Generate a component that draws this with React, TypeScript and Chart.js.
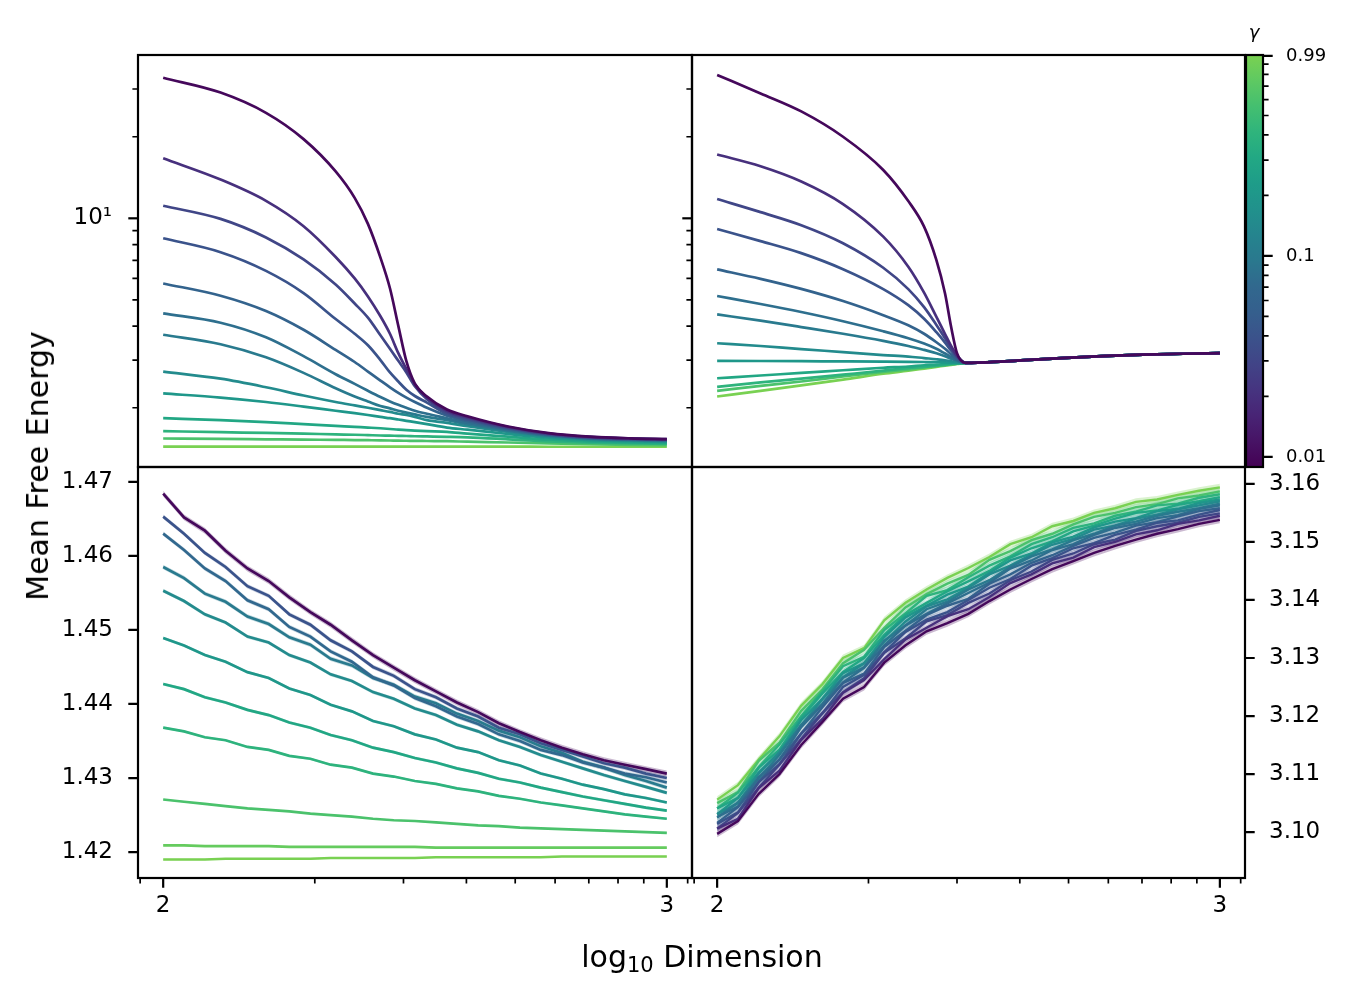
import React, { useEffect, useRef } from 'react';
import { Chart, registerables } from 'chart.js';

Chart.register(...registerables);

const FONT = "'DejaVu Sans', 'Liberation Sans', sans-serif";
Chart.defaults.font.family = FONT;

// ---------------- colour scale (colorbar) ----------------
const CB_MIN = 0.0089;
const CB_MAX = 1.0;
const cbTickValues = [0.01, 0.1, 0.99];
const cbTickLabels = ['0.01', '0.1', '0.99'];
const cbMinorTicks = [0.02, 0.03, 0.04, 0.05, 0.06, 0.07, 0.08, 0.09, 0.2, 0.3, 0.4, 0.5, 0.6, 0.7, 0.8, 0.9];
// viridis from 0.00 to 0.80 in steps of 0.05
const VIRIDIS_STOPS = ['#440154', '#471365', '#482475', '#463480', '#414487', '#3b528b', '#355f8d', '#31688e',
  '#2a788e', '#25848e', '#21918c', '#1e9c89', '#22a884', '#2fb47c', '#44bf70', '#5ec962', '#7ad151'];

// ---------------- x axis (log10 Dimension) ----------------
const X_MIN = 89.125;
const X_MAX = 1122.0;
const xTickValues = [100, 1000];
const xTickLabels = ['2', '3'];
const xMinorTicks = [90, 200, 300, 400, 500, 600, 700, 800, 900, 1100];

// ---------------- y axes ----------------
const TOP_Y_MIN = 1.209;
const TOP_Y_MAX = 40.05;
const topYTickValues = [10];
const topYTickLabels = ['10\u00b9'];
const topYMinorTicks = [2, 3, 4, 5, 6, 7, 8, 9, 20, 30];

const BL_Y_MIN = 1.4165;
const BL_Y_MAX = 1.472;
const blYTickValues = [1.42, 1.43, 1.44, 1.45, 1.46, 1.47];
const blYTickLabels = ['1.42', '1.43', '1.44', '1.45', '1.46', '1.47'];

const BR_Y_MIN = 3.0921;
const BR_Y_MAX = 3.1629;
const brYTickValues = [3.10, 3.11, 3.12, 3.13, 3.14, 3.15, 3.16];
const brYTickLabels = ['3.10', '3.11', '3.12', '3.13', '3.14', '3.15', '3.16'];

// ---------------- gamma values per panel ----------------
const gammaTop = [0.01, 0.02, 0.03, 0.04, 0.06, 0.08, 0.1, 0.15, 0.2, 0.3, 0.4, 0.6, 0.99];
const gammaBL = [0.01, 0.04, 0.07, 0.1, 0.15, 0.2, 0.3, 0.4, 0.6, 0.8, 0.99];
const gammaBR = [0.01, 0.02, 0.03, 0.04, 0.06, 0.08, 0.1, 0.15, 0.2, 0.3, 0.4, 0.6, 0.99];

// ---------------- top-left panel ----------------
const dimsTL = [100, 130, 160, 190, 220, 240, 255, 270, 282, 293, 304, 316, 334, 366, 402, 484, 583, 703, 846, 1000];
const tl1 = [33.0, 29.1, 24.5, 19.6, 14.9, 11.9, 9.54, 7.16, 5.52, 4.01, 2.97, 2.455, 2.20, 1.97, 1.86, 1.705, 1.612, 1.565, 1.543, 1.533];
const tl2 = [16.65, 13.9, 11.6, 9.35, 7.2, 6.0, 5.15, 4.35, 3.75, 3.18, 2.78, 2.44, 2.18, 1.95, 1.845, 1.698, 1.607, 1.562, 1.541, 1.531];
const tl3 = [11.13, 9.95, 8.5, 7.05, 5.7, 4.85, 4.3, 3.7, 3.3, 2.98, 2.7, 2.40, 2.15, 1.93, 1.83, 1.69, 1.602, 1.558, 1.538, 1.528];
const tl4 = [8.44, 7.5, 6.4, 5.3, 4.25, 3.75, 3.4, 3.0, 2.7, 2.5, 2.33, 2.21, 2.09, 1.90, 1.81, 1.68, 1.596, 1.553, 1.534, 1.525];
const tl5 = [5.75, 5.18, 4.55, 3.88, 3.27, 2.95, 2.72, 2.52, 2.38, 2.27, 2.18, 2.10, 2.00, 1.87, 1.79, 1.67, 1.59, 1.548, 1.53, 1.521];
const tl6 = [4.46, 4.12, 3.64, 3.10, 2.66, 2.45, 2.31, 2.19, 2.11, 2.05, 2.0, 1.95, 1.90, 1.83, 1.76, 1.658, 1.583, 1.543, 1.525, 1.517];
const tl7 = [3.72, 3.43, 3.07, 2.69, 2.36, 2.20, 2.11, 2.03, 1.99, 1.95, 1.92, 1.89, 1.85, 1.80, 1.74, 1.648, 1.577, 1.539, 1.521, 1.513];
const tl8 = [2.72, 2.56, 2.38, 2.22, 2.10, 2.04, 2.0, 1.96, 1.93, 1.90, 1.88, 1.85, 1.80, 1.76, 1.71, 1.63, 1.567, 1.532, 1.514, 1.506];
const tl9 = [2.26, 2.18, 2.10, 2.02, 1.95, 1.91, 1.88, 1.85, 1.83, 1.81, 1.79, 1.77, 1.74, 1.69, 1.66, 1.60, 1.55, 1.52, 1.505, 1.497];
const tl10 = [1.83, 1.80, 1.77, 1.74, 1.715, 1.70, 1.69, 1.68, 1.67, 1.66, 1.655, 1.648, 1.64, 1.63, 1.605, 1.565, 1.527, 1.503, 1.49, 1.483];
const tl11 = [1.64, 1.625, 1.615, 1.605, 1.595, 1.59, 1.585, 1.58, 1.578, 1.575, 1.573, 1.57, 1.567, 1.562, 1.555, 1.53, 1.504, 1.487, 1.477, 1.471];
const tl12 = [1.54, 1.535, 1.53, 1.526, 1.522, 1.52, 1.518, 1.516, 1.514, 1.512, 1.511, 1.51, 1.508, 1.505, 1.499, 1.489, 1.477, 1.467, 1.46, 1.455];
const tl13 = [1.437, 1.437, 1.437, 1.437, 1.437, 1.437, 1.437, 1.437, 1.437, 1.437, 1.437, 1.437, 1.437, 1.437, 1.437, 1.437, 1.436, 1.436, 1.436, 1.436];

// ---------------- top-right panel ----------------
const dimsTR = [100, 122, 147, 178, 214, 240, 258, 273, 284, 292, 300, 312, 330, 366, 402, 484, 583, 703, 846, 1000];
const tr1 = [33.8, 28.9, 24.8, 20.0, 15.08, 11.58, 9.32, 7.01, 5.28, 3.98, 3.18, 2.93, 2.935, 2.96, 2.99, 3.05, 3.10, 3.14, 3.165, 3.18];
const tr2 = [17.2, 15.56, 13.67, 11.29, 8.56, 6.63, 5.32, 4.33, 3.74, 3.38, 3.12, 2.93, 2.935, 2.96, 2.99, 3.05, 3.10, 3.14, 3.165, 3.18];
const tr3 = [11.78, 10.54, 9.43, 8.09, 6.57, 5.48, 4.70, 4.04, 3.61, 3.32, 3.10, 2.93, 2.935, 2.96, 2.99, 3.05, 3.10, 3.14, 3.165, 3.18];
const tr4 = [9.13, 8.24, 7.44, 6.49, 5.48, 4.78, 4.26, 3.80, 3.48, 3.25, 3.07, 2.93, 2.935, 2.96, 2.99, 3.05, 3.10, 3.14, 3.165, 3.18];
const tr5 = [6.48, 5.98, 5.49, 4.95, 4.39, 4.03, 3.75, 3.49, 3.30, 3.15, 3.02, 2.93, 2.935, 2.96, 2.99, 3.05, 3.10, 3.14, 3.165, 3.18];
const tr6 = [5.17, 4.83, 4.51, 4.17, 3.83, 3.61, 3.45, 3.30, 3.17, 3.08, 3.00, 2.93, 2.935, 2.96, 2.99, 3.05, 3.10, 3.14, 3.165, 3.18];
const tr7 = [4.42, 4.19, 3.97, 3.75, 3.53, 3.38, 3.27, 3.18, 3.10, 3.03, 2.98, 2.93, 2.935, 2.96, 2.99, 3.05, 3.10, 3.14, 3.165, 3.18];
const tr8 = [3.46, 3.38, 3.29, 3.21, 3.13, 3.09, 3.05, 3.02, 2.995, 2.97, 2.95, 2.93, 2.935, 2.96, 2.99, 3.05, 3.10, 3.14, 3.165, 3.18];
const tr9 = [2.98, 2.975, 2.97, 2.965, 2.96, 2.955, 2.95, 2.945, 2.94, 2.935, 2.93, 2.93, 2.935, 2.96, 2.99, 3.05, 3.10, 3.14, 3.165, 3.18];
const tr10 = [2.57, 2.63, 2.69, 2.75, 2.81, 2.84, 2.87, 2.885, 2.90, 2.91, 2.92, 2.93, 2.935, 2.96, 2.99, 3.05, 3.10, 3.14, 3.165, 3.18];
const tr11 = [2.39, 2.48, 2.56, 2.65, 2.74, 2.80, 2.83, 2.86, 2.88, 2.90, 2.91, 2.93, 2.935, 2.96, 2.99, 3.05, 3.10, 3.14, 3.165, 3.18];
const tr12 = [2.31, 2.41, 2.50, 2.61, 2.71, 2.77, 2.82, 2.85, 2.87, 2.89, 2.91, 2.93, 2.935, 2.96, 2.99, 3.05, 3.10, 3.14, 3.165, 3.18];
const tr13 = [2.20, 2.31, 2.42, 2.54, 2.67, 2.74, 2.79, 2.83, 2.86, 2.88, 2.90, 2.93, 2.935, 2.96, 2.99, 3.05, 3.10, 3.14, 3.165, 3.18];

// ---------------- bottom panels ----------------
const dimsBottom = [100, 110, 121, 133, 147, 162, 178, 196, 215, 237, 261, 287, 316, 348, 383, 422, 464, 511, 562, 619, 681, 750, 825, 909, 1000];

const bl1 = [1.4684, 1.4652, 1.4634, 1.4607, 1.4583, 1.4566, 1.4544, 1.4524, 1.4507, 1.4486, 1.4466, 1.4449, 1.4432, 1.4417, 1.4402, 1.4389, 1.4374, 1.4362, 1.4351, 1.4341, 1.4332, 1.4324, 1.4318, 1.4312, 1.4306];
const bl2 = [1.4653, 1.4630, 1.4604, 1.4585, 1.4559, 1.4546, 1.4521, 1.4507, 1.4486, 1.4471, 1.4450, 1.4438, 1.4420, 1.4409, 1.4394, 1.4383, 1.4368, 1.4359, 1.4347, 1.4338, 1.4329, 1.4320, 1.4314, 1.4306, 1.4300];
const bl3 = [1.4630, 1.4608, 1.4583, 1.4566, 1.4540, 1.4528, 1.4504, 1.4491, 1.4471, 1.4457, 1.4436, 1.4425, 1.4408, 1.4397, 1.4383, 1.4373, 1.4359, 1.4350, 1.4338, 1.4331, 1.4321, 1.4314, 1.4306, 1.4301, 1.4294];
const bl4 = [1.4585, 1.4570, 1.4549, 1.4538, 1.4518, 1.4508, 1.4490, 1.4480, 1.4461, 1.4452, 1.4435, 1.4426, 1.4410, 1.4401, 1.4387, 1.4377, 1.4364, 1.4355, 1.4343, 1.4334, 1.4322, 1.4314, 1.4304, 1.4296, 1.4287];
const bl5 = [1.4553, 1.4539, 1.4521, 1.4510, 1.4491, 1.4483, 1.4466, 1.4456, 1.4440, 1.4431, 1.4416, 1.4407, 1.4394, 1.4385, 1.4372, 1.4363, 1.4351, 1.4342, 1.4331, 1.4322, 1.4313, 1.4304, 1.4296, 1.4288, 1.4280];
const bl6 = [1.4489, 1.4479, 1.4466, 1.4457, 1.4443, 1.4435, 1.4421, 1.4412, 1.4399, 1.4390, 1.4377, 1.4370, 1.4359, 1.4352, 1.4341, 1.4335, 1.4324, 1.4317, 1.4306, 1.4299, 1.4291, 1.4285, 1.4278, 1.4273, 1.4267];
const bl7 = [1.4427, 1.4420, 1.4409, 1.4402, 1.4392, 1.4385, 1.4375, 1.4368, 1.4358, 1.4351, 1.4341, 1.4335, 1.4327, 1.4321, 1.4313, 1.4307, 1.4299, 1.4294, 1.4287, 1.4281, 1.4275, 1.4270, 1.4265, 1.4260, 1.4256];
const bl8 = [1.4368, 1.4363, 1.4355, 1.4351, 1.4342, 1.4338, 1.4330, 1.4326, 1.4318, 1.4314, 1.4306, 1.4302, 1.4296, 1.4292, 1.4286, 1.4282, 1.4276, 1.4272, 1.4267, 1.4263, 1.4259, 1.4255, 1.4251, 1.4248, 1.4245];
const bl9 = [1.4271, 1.4268, 1.4265, 1.4262, 1.4259, 1.4257, 1.4255, 1.4252, 1.4250, 1.4248, 1.4245, 1.4243, 1.4242, 1.4240, 1.4238, 1.4236, 1.4235, 1.4233, 1.4232, 1.4231, 1.4230, 1.4229, 1.4228, 1.4227, 1.4226];
const bl10 = [1.4209, 1.4209, 1.4208, 1.4208, 1.4208, 1.4208, 1.4207, 1.4207, 1.4207, 1.4207, 1.4207, 1.4207, 1.4207, 1.4206, 1.4206, 1.4206, 1.4206, 1.4206, 1.4206, 1.4206, 1.4206, 1.4206, 1.4206, 1.4206, 1.4206];
const bl11 = [1.4190, 1.4190, 1.4190, 1.4191, 1.4191, 1.4191, 1.4191, 1.4191, 1.4192, 1.4192, 1.4192, 1.4192, 1.4192, 1.4193, 1.4193, 1.4193, 1.4193, 1.4193, 1.4193, 1.4194, 1.4194, 1.4194, 1.4194, 1.4194, 1.4194];
const blBand = [0.0004, 0.0003, 0.0003, 0.0003, 0.00025, 0.0002, 0.0002, 0.00015, 0.0001, 0.0001, 0.0001];

const br1 = [3.0997, 3.1019, 3.1066, 3.1100, 3.1150, 3.1190, 3.1230, 3.1250, 3.1292, 3.1322, 3.1346, 3.1360, 3.1376, 3.1398, 3.1418, 3.1436, 3.1453, 3.1467, 3.1481, 3.1493, 3.1504, 3.1514, 3.1522, 3.1531, 3.1538];
const br2 = [3.1006, 3.1023, 3.1076, 3.1106, 3.1159, 3.1195, 3.1240, 3.1262, 3.1298, 3.1332, 3.1352, 3.1372, 3.1384, 3.1405, 3.1429, 3.1444, 3.1463, 3.1473, 3.1491, 3.1500, 3.1513, 3.1520, 3.1531, 3.1537, 3.1545];
const br3 = [3.1006, 3.1033, 3.1077, 3.1116, 3.1161, 3.1205, 3.1241, 3.1265, 3.1309, 3.1334, 3.1363, 3.1374, 3.1395, 3.1411, 3.1434, 3.1449, 3.1469, 3.1480, 3.1496, 3.1504, 3.1519, 3.1527, 3.1533, 3.1543, 3.1549];
const br4 = [3.1014, 3.1034, 3.1086, 3.1117, 3.1170, 3.1205, 3.1250, 3.1271, 3.1310, 3.1345, 3.1366, 3.1379, 3.1400, 3.1421, 3.1436, 3.1459, 3.1472, 3.1489, 3.1498, 3.1512, 3.1521, 3.1533, 3.1537, 3.1547, 3.1555];
const br5 = [3.1016, 3.1043, 3.1087, 3.1125, 3.1170, 3.1215, 3.1257, 3.1273, 3.1319, 3.1347, 3.1374, 3.1390, 3.1402, 3.1428, 3.1444, 3.1464, 3.1477, 3.1493, 3.1507, 3.1516, 3.1528, 3.1534, 3.1544, 3.1553, 3.1558];
const br6 = [3.1026, 3.1044, 3.1095, 3.1125, 3.1181, 3.1220, 3.1258, 3.1283, 3.1322, 3.1356, 3.1376, 3.1394, 3.1412, 3.1430, 3.1454, 3.1468, 3.1486, 3.1496, 3.1512, 3.1524, 3.1531, 3.1541, 3.1546, 3.1557, 3.1563];
const br7 = [3.1025, 3.1051, 3.1093, 3.1133, 3.1185, 3.1221, 3.1266, 3.1284, 3.1330, 3.1356, 3.1384, 3.1397, 3.1418, 3.1434, 3.1457, 3.1475, 3.1487, 3.1503, 3.1514, 3.1528, 3.1535, 3.1545, 3.1552, 3.1558, 3.1566];
const br8 = [3.1031, 3.1050, 3.1101, 3.1138, 3.1184, 3.1229, 3.1267, 3.1291, 3.1328, 3.1363, 3.1389, 3.1401, 3.1421, 3.1444, 3.1459, 3.1478, 3.1495, 3.1505, 3.1521, 3.1528, 3.1540, 3.1547, 3.1556, 3.1563, 3.1570];
const br9 = [3.1031, 3.1059, 3.1103, 3.1137, 3.1193, 3.1230, 3.1274, 3.1291, 3.1336, 3.1370, 3.1390, 3.1409, 3.1423, 3.1447, 3.1468, 3.1480, 3.1499, 3.1509, 3.1525, 3.1535, 3.1541, 3.1553, 3.1557, 3.1567, 3.1573];
const br10 = [3.1041, 3.1059, 3.1111, 3.1142, 3.1197, 3.1239, 3.1276, 3.1300, 3.1340, 3.1374, 3.1395, 3.1415, 3.1432, 3.1450, 3.1473, 3.1489, 3.1501, 3.1518, 3.1528, 3.1540, 3.1550, 3.1554, 3.1564, 3.1570, 3.1577];
const br11 = [3.1041, 3.1068, 3.1112, 3.1151, 3.1200, 3.1243, 3.1286, 3.1302, 3.1348, 3.1377, 3.1407, 3.1417, 3.1439, 3.1459, 3.1475, 3.1496, 3.1508, 3.1524, 3.1532, 3.1545, 3.1552, 3.1563, 3.1566, 3.1576, 3.1582];
const br12 = [3.1050, 3.1069, 3.1123, 3.1154, 3.1209, 3.1246, 3.1291, 3.1314, 3.1352, 3.1387, 3.1410, 3.1428, 3.1443, 3.1469, 3.1484, 3.1503, 3.1514, 3.1530, 3.1543, 3.1550, 3.1560, 3.1565, 3.1575, 3.1580, 3.1587];
const br13 = [3.1056, 3.1081, 3.1125, 3.1165, 3.1218, 3.1255, 3.1300, 3.1317, 3.1365, 3.1395, 3.1418, 3.1438, 3.1455, 3.1474, 3.1496, 3.1508, 3.1527, 3.1536, 3.1550, 3.1558, 3.1569, 3.1573, 3.1581, 3.1588, 3.1594];
const brBand = [0.0006, 0.0005, 0.0005, 0.0005, 0.0005, 0.0005, 0.0005, 0.0005, 0.0005, 0.0005, 0.0006, 0.0006, 0.0006];

const tlSeries = [tl1, tl2, tl3, tl4, tl5, tl6, tl7, tl8, tl9, tl10, tl11, tl12, tl13];
const trSeries = [tr1, tr2, tr3, tr4, tr5, tr6, tr7, tr8, tr9, tr10, tr11, tr12, tr13];
const blSeries = [bl1, bl2, bl3, bl4, bl5, bl6, bl7, bl8, bl9, bl10, bl11];
const brSeries = [br1, br2, br3, br4, br5, br6, br7, br8, br9, br10, br11, br12, br13];

// ---------------- helpers ----------------
const W = 1352;
const H = 1002;
const MAJOR_LEN = 9.7;
const MINOR_LEN = 5.6;
const MAJOR_W = 2.2;
const MINOR_W = 1.7;
const SPINE_W = 2.2;

function hexToRgb(h: string) {
  return [parseInt(h.slice(1, 3), 16), parseInt(h.slice(3, 5), 16), parseInt(h.slice(5, 7), 16)];
}

function colorAt(p: number, alpha = 1) {
  const f = Math.min(Math.max(p, 0), 1) * (VIRIDIS_STOPS.length - 1);
  const i = Math.min(Math.floor(f), VIRIDIS_STOPS.length - 2);
  const t = f - i;
  const a = hexToRgb(VIRIDIS_STOPS[i]);
  const b = hexToRgb(VIRIDIS_STOPS[i + 1]);
  const c = a.map((v, k) => Math.round(v + (b[k] - v) * t));
  return `rgba(${c[0]},${c[1]},${c[2]},${alpha})`;
}

function gammaColor(g: number, alpha = 1) {
  const p = (Math.log10(g) - Math.log10(CB_MIN)) / (Math.log10(CB_MAX) - Math.log10(CB_MIN));
  return colorAt(p, alpha);
}

const pts = (xs: number[], ys: number[]) => xs.map((x, i) => ({ x, y: ys[i] }));

function lineDs(xs: number[], ys: number[], g: number, width: number, smooth: boolean) {
  return {
    data: pts(xs, ys),
    borderColor: gammaColor(g),
    backgroundColor: gammaColor(g),
    borderWidth: width,
    pointRadius: 0,
    fill: false,
    tension: 0,
    cubicInterpolationMode: smooth ? 'monotone' : 'default',
    order: 0,
  };
}

function panelDatasets(xs: number[], series: number[][], gammas: number[], width: number, smooth: boolean, bands?: number[]) {
  const out: any[] = series.map((ys, i) => lineDs(xs, ys, gammas[i], width, smooth));
  if (bands) {
    series.forEach((ys, i) => {
      const upIdx = out.length;
      out.push({
        data: pts(xs, ys.map((v) => v + bands[i])),
        borderColor: 'rgba(0,0,0,0)', borderWidth: 0, pointRadius: 0, fill: false, order: 1,
      });
      out.push({
        data: pts(xs, ys.map((v) => v - bands[i])),
        borderColor: 'rgba(0,0,0,0)', borderWidth: 0, pointRadius: 0,
        fill: upIdx, backgroundColor: gammaColor(gammas[i], 0.28), order: 1,
      });
    });
  }
  return out;
}

function axis(o: any) {
  const horizontal = o.position === 'top' || o.position === 'bottom';
  return {
    type: o.type,
    position: o.position,
    min: o.min,
    max: o.max,
    display: o.display,
    grid: { display: false, drawTicks: false },
    border: { display: false },
    afterBuildTicks: (s: any) => {
      s.ticks = (o.ticks || []).map((v: number) => ({ value: v }));
    },
    afterFit: (s: any) => {
      if (o.size != null) {
        if (horizontal) s.height = o.size;
        else s.width = o.size;
      }
    },
    ticks: {
      display: true,
      autoSkip: false,
      maxRotation: 0,
      minRotation: 0,
      padding: o.pad ?? 0,
      color: '#000',
      font: { family: FONT, size: o.fontSize ?? 23 },
      callback: (_v: any, i: number) => (o.labels ? o.labels[i] : ''),
    },
  };
}

function framePlugin(cfg: any) {
  return {
    id: 'mplFrame',
    afterDatasetsDraw(chart: any) {
      const { ctx, chartArea: a, scales } = chart;
      ctx.save();
      ctx.strokeStyle = '#000';
      ctx.lineCap = 'butt';
      for (const side of ['left', 'right', 'bottom', 'top']) {
        const s = cfg[side];
        if (!s) continue;
        const vertical = side === 'left' || side === 'right';
        const scale = vertical ? scales.y : scales.x;
        const groups: any[] = [[s.major || [], MAJOR_LEN, MAJOR_W], [s.minor || [], MINOR_LEN, MINOR_W]];
        for (const [vals, len, w] of groups) {
          ctx.lineWidth = w;
          ctx.beginPath();
          for (const v of vals) {
            const p = scale.getPixelForValue(v);
            if (vertical) {
              if (p < a.top - 0.5 || p > a.bottom + 0.5) continue;
              const x0 = side === 'left' ? a.left : a.right;
              const x1 = side === 'left' ? x0 - len : x0 + len;
              ctx.moveTo(x0, p);
              ctx.lineTo(x1, p);
            } else {
              if (p < a.left - 0.5 || p > a.right + 0.5) continue;
              const y0 = side === 'bottom' ? a.bottom : a.top;
              const y1 = side === 'bottom' ? y0 + len : y0 - len;
              ctx.moveTo(p, y0);
              ctx.lineTo(p, y1);
            }
          }
          ctx.stroke();
        }
      }
      ctx.lineWidth = SPINE_W;
      ctx.strokeRect(a.left, a.top, a.right - a.left, a.bottom - a.top);
      ctx.restore();
    },
  };
}

function lineConfig(padding: any, scales: any, datasets: any[], frame: any) {
  return {
    type: 'line',
    data: { datasets },
    options: {
      responsive: false,
      animation: false,
      devicePixelRatio: 1,
      events: [],
      layout: { padding },
      plugins: { legend: { display: false }, tooltip: { enabled: false } },
      elements: { point: { radius: 0 } },
      scales,
    },
    plugins: [framePlugin(frame)],
  };
}

// panel rectangles (pixels)
const XL = 138, XM = 692, XR = 1245, YT = 55, YM = 467, YB = 878;
const CB_L = 1246, CB_R = 1263;

function topLeftConfig() {
  return lineConfig(
    { left: 0, top: YT, right: W - XM, bottom: H - YM },
    {
      x: axis({ type: 'logarithmic', position: 'bottom', min: X_MIN, max: X_MAX, display: false }),
      y: axis({ type: 'logarithmic', position: 'left', min: TOP_Y_MIN, max: TOP_Y_MAX, display: true,
        ticks: topYTickValues, labels: topYTickLabels, size: XL, pad: 26 }),
    },
    panelDatasets(dimsTL, tlSeries, gammaTop, 2.7, true),
    { left: { major: topYTickValues, minor: topYMinorTicks } },
  );
}

function topRightConfig() {
  return lineConfig(
    { left: XM, top: YT, right: W - XR, bottom: H - YM },
    {
      x: axis({ type: 'logarithmic', position: 'bottom', min: X_MIN, max: X_MAX, display: false }),
      y: axis({ type: 'logarithmic', position: 'left', min: TOP_Y_MIN, max: TOP_Y_MAX, display: false }),
    },
    panelDatasets(dimsTR, trSeries, gammaTop, 2.7, true),
    { left: { major: topYTickValues, minor: topYMinorTicks } },
  );
}

function bottomLeftConfig() {
  return lineConfig(
    { left: 0, top: YM, right: W - XM, bottom: 0 },
    {
      x: axis({ type: 'logarithmic', position: 'bottom', min: X_MIN, max: X_MAX, display: true,
        ticks: xTickValues, labels: xTickLabels, size: H - YB, pad: 14 }),
      y: axis({ type: 'linear', position: 'left', min: BL_Y_MIN, max: BL_Y_MAX, display: true,
        ticks: blYTickValues, labels: blYTickLabels, size: XL, pad: 25 }),
    },
    panelDatasets(dimsBottom, blSeries, gammaBL, 2.7, false, blBand),
    { left: { major: blYTickValues }, bottom: { major: xTickValues, minor: xMinorTicks } },
  );
}

function bottomRightConfig() {
  return lineConfig(
    { left: XM, top: YM, right: 0, bottom: 0 },
    {
      x: axis({ type: 'logarithmic', position: 'bottom', min: X_MIN, max: X_MAX, display: true,
        ticks: xTickValues, labels: xTickLabels, size: H - YB, pad: 14 }),
      y: axis({ type: 'linear', position: 'right', min: BR_Y_MIN, max: BR_Y_MAX, display: true,
        ticks: brYTickValues, labels: brYTickLabels, size: W - XR, pad: 24 }),
    },
    panelDatasets(dimsBottom, brSeries, gammaBR, 2.4, false, brBand),
    { right: { major: brYTickValues }, bottom: { major: xTickValues, minor: xMinorTicks } },
  );
}

function colorbarConfig() {
  return {
    type: 'bar',
    data: {
      labels: ['gamma'],
      datasets: [{
        data: [[CB_MIN, CB_MAX]],
        borderWidth: 0,
        barPercentage: 1,
        categoryPercentage: 1,
        inflateAmount: 0,
        backgroundColor: (c: any) => {
          const a = c.chart.chartArea;
          if (!a) return VIRIDIS_STOPS[0];
          const g = c.chart.ctx.createLinearGradient(0, a.bottom, 0, a.top);
          VIRIDIS_STOPS.forEach((col, i) => g.addColorStop(i / (VIRIDIS_STOPS.length - 1), col));
          return g;
        },
      }],
    },
    options: {
      responsive: false,
      animation: false,
      devicePixelRatio: 1,
      events: [],
      layout: { padding: { left: CB_L, top: YT, right: 0, bottom: H - YM } },
      plugins: { legend: { display: false }, tooltip: { enabled: false } },
      scales: {
        x: { type: 'category', display: false, grid: { display: false } },
        y: axis({ type: 'logarithmic', position: 'right', min: CB_MIN, max: CB_MAX, display: true,
          ticks: cbTickValues, labels: cbTickLabels, size: W - CB_R, pad: 23, fontSize: 18 }),
      },
    },
    plugins: [framePlugin({ right: { major: cbTickValues, minor: cbMinorTicks } })],
  };
}

export default function App() {
  const r1 = useRef<HTMLCanvasElement>(null);
  const r2 = useRef<HTMLCanvasElement>(null);
  const r3 = useRef<HTMLCanvasElement>(null);
  const r4 = useRef<HTMLCanvasElement>(null);
  const r5 = useRef<HTMLCanvasElement>(null);

  useEffect(() => {
    const charts = [
      new Chart(r1.current as any, topLeftConfig() as any),
      new Chart(r2.current as any, topRightConfig() as any),
      new Chart(r3.current as any, bottomLeftConfig() as any),
      new Chart(r4.current as any, bottomRightConfig() as any),
      new Chart(r5.current as any, colorbarConfig() as any),
    ];
    return () => charts.forEach((c) => c.destroy());
  }, []);

  const canvasStyle: any = { position: 'absolute', left: 0, top: 0, width: W, height: H };
  const textBase: any = { position: 'absolute', fontFamily: FONT, color: '#000', lineHeight: 1, whiteSpace: 'nowrap' };

  return (
    <div style={{ position: 'absolute', left: 0, top: 0, width: W, height: H, background: '#fff', overflow: 'hidden' }}>
      {[r1, r2, r3, r4, r5].map((r, i) => (
        <canvas key={i} ref={r} width={W} height={H} style={canvasStyle} />
      ))}
      <div style={{ ...textBase, left: 37.5, top: 466, fontSize: 30, transform: 'translate(-50%, -50%) rotate(-90deg)' }}>
        Mean Free Energy
      </div>
      <div style={{ ...textBase, left: 702, top: 941.6, fontSize: 30, transform: 'translateX(-50%)' }}>
        log<span style={{ fontSize: 21, verticalAlign: '-5px' }}>10</span> Dimension
      </div>
      <div style={{ ...textBase, left: 1254, top: 23, fontSize: 18, fontStyle: 'italic', transform: 'translateX(-50%)' }}>
        γ
      </div>
    </div>
  );
}
